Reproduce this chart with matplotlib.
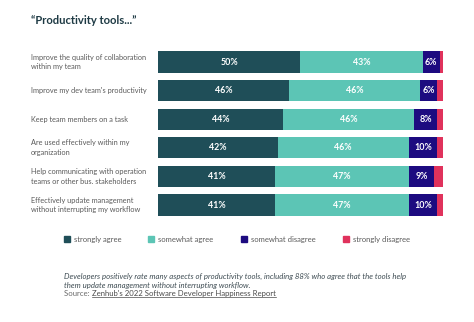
import matplotlib
matplotlib.use("Agg")
import matplotlib.pyplot as plt
from matplotlib.patches import Rectangle

categories = [
    "Improve the quality of collaboration\nwithin my team",
    "Improve my dev team's productivity",
    "Keep team members on a task",
    "Are used effectively within my\norganization",
    "Help communicating with operation\nteams or other bus. stakeholders",
    "Effectively update management\nwithout interrupting my workflow",
]
strongly_agree = [50, 46, 44, 42, 41, 41]
somewhat_agree = [43, 46, 46, 46, 47, 47]
somewhat_disagree = [6, 6, 8, 10, 9, 10]
strongly_disagree = [1, 2, 2, 2, 3, 2]
series_names = ["strongly agree", "somewhat agree", "somewhat disagree", "strongly disagree"]
colors = ["#1f4e58", "#5cc5b5", "#1d0b80", "#e0325c"]

plt.rcParams['font.family'] = ['Lato', 'DejaVu Sans']

W, H = 474, 322
fig = plt.figure(figsize=(W / 100, H / 100), dpi=100)
fig.patch.set_facecolor("white")

ax = fig.add_axes([158 / W, 1 - 219.3 / H, 284.7 / W, 171.6 / H])
ax.set_xlim(0, 100)
ax.set_ylim(len(categories) - 0.5, -0.5)
ax.axis("off")

series = [strongly_agree, somewhat_agree, somewhat_disagree, strongly_disagree]
ypos = list(range(len(categories)))
left = [0] * len(categories)
for si, (vals, col) in enumerate(zip(series, colors)):
    ax.barh(ypos, vals, left=left, height=0.735, color=col, edgecolor="none")
    if si < 3:
        for y, v, l in zip(ypos, vals, left):
            ax.text(l + v / 2, y, f"{v}%", ha="center", va="center",
                    color="white", fontsize=6.4, fontweight="bold")
    left = [a + b for a, b in zip(left, vals)]

# category labels
for y, cat in zip(ypos, categories):
    fig_y = 1 - (62 + y * 28.6) / H
    fig.text(31 / W, fig_y, cat, ha="left", va="center", fontsize=5.3,
             color="#5a5a5a", linespacing=1.45)

# title
fig.text(31 / W, 1 - 21 / H, "\u201cProductivity tools...\u201d", ha="left", va="center",
         fontsize=8.1, fontweight="bold", color="#1e3a44")

# legend
leg_x = [64, 148, 241, 343]
for x, name, col in zip(leg_x, series_names, colors):
    fig.patches.append(Rectangle((x / W, 1 - 242.3 / H), 6 / W, 6 / H,
                                 transform=fig.transFigure, color=col))
    fig.text((x + 10) / W, 1 - 239.5 / H, name, ha="left", va="center",
             fontsize=5.5, color="#5a5a5a")

# caption
fig.text(64 / W, 1 - 276.7 / H,
         "Developers positively rate many aspects of productivity tools, including 88% who agree that the tools help",
         ha="left", va="center", fontsize=5.6, style="italic", color="#3d4b52")
fig.text(64 / W, 1 - 285.3 / H,
         "them update management without interrupting workflow.",
         ha="left", va="center", fontsize=5.6, style="italic", color="#3d4b52")
t1 = fig.text(64 / W, 1 - 293.9 / H, "Source: ", ha="left", va="center",
              fontsize=5.6, color="#6a6a6a")
fig.canvas.draw()
bb = t1.get_window_extent()
t2 = fig.text(bb.x1 / W, 1 - 293.9 / H, "Zenhub's 2022 Software Developer Happiness Report",
              ha="left", va="center", fontsize=5.6, color="#4a4a4a")
fig.canvas.draw()
bb2 = t2.get_window_extent()
fig.lines.append(plt.Line2D([bb2.x0 / W, bb2.x1 / W], [(bb2.y0 + 0.3) / H, (bb2.y0 + 0.3) / H],
                            transform=fig.transFigure, color="#4a4a4a", lw=0.5))

fig.savefig("out.png", dpi=100, facecolor="white")
